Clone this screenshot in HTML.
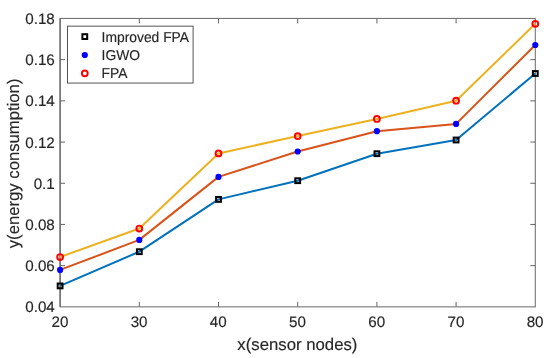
<!DOCTYPE html><html><head><meta charset="utf-8"><style>html,body{margin:0;padding:0;background:#fff}svg{display:block}text{font-family:"Liberation Sans",sans-serif;fill:#262626;stroke:#262626;stroke-width:0.15px;text-rendering:geometricPrecision}</style></head><body>
<svg width="550" height="358" viewBox="0 0 550 358">
<rect width="550" height="358" fill="#fff"/>
<g stroke="#757575" stroke-width="1.1" fill="none">
<rect x="60.1" y="18.45" width="475.20" height="288.40"/>
<path d="M60.1 18.45V306.85" stroke="#606060"/>
</g><g stroke="#666" stroke-width="1" fill="none">
<path d="M139.30 306.85v-5M139.30 18.45v5"/>
<path d="M218.50 306.85v-5M218.50 18.45v5"/>
<path d="M297.70 306.85v-5M297.70 18.45v5"/>
<path d="M376.90 306.85v-5M376.90 18.45v5"/>
<path d="M456.10 306.85v-5M456.10 18.45v5"/>
<path d="M60.1 265.65h5M535.3 265.65h-5"/>
<path d="M60.1 224.45h5M535.3 224.45h-5"/>
<path d="M60.1 183.25h5M535.3 183.25h-5"/>
<path d="M60.1 142.05h5M535.3 142.05h-5"/>
<path d="M60.1 100.85h5M535.3 100.85h-5"/>
<path d="M60.1 59.65h5M535.3 59.65h-5"/>
</g>
<polyline points="60.10,285.90 139.30,251.70 218.50,199.40 297.70,180.70 376.90,153.70 456.10,140.00 535.30,73.50" fill="none" stroke="#0072bd" stroke-width="2" stroke-linejoin="round"/>
<rect x="57.70" y="283.50" width="4.8" height="4.8" fill="none" stroke="#000" stroke-width="2"/>
<rect x="136.90" y="249.30" width="4.8" height="4.8" fill="none" stroke="#000" stroke-width="2"/>
<rect x="216.10" y="197.00" width="4.8" height="4.8" fill="none" stroke="#000" stroke-width="2"/>
<rect x="295.30" y="178.30" width="4.8" height="4.8" fill="none" stroke="#000" stroke-width="2"/>
<rect x="374.50" y="151.30" width="4.8" height="4.8" fill="none" stroke="#000" stroke-width="2"/>
<rect x="453.70" y="137.60" width="4.8" height="4.8" fill="none" stroke="#000" stroke-width="2"/>
<rect x="532.90" y="71.10" width="4.8" height="4.8" fill="none" stroke="#000" stroke-width="2"/>
<polyline points="60.10,269.90 139.30,239.90 218.50,176.90 297.70,151.50 376.90,131.20 456.10,123.90 535.30,45.00" fill="none" stroke="#d95319" stroke-width="2" stroke-linejoin="round"/>
<circle cx="60.10" cy="269.90" r="3.1" fill="#0000ff"/>
<circle cx="139.30" cy="239.90" r="3.1" fill="#0000ff"/>
<circle cx="218.50" cy="176.90" r="3.1" fill="#0000ff"/>
<circle cx="297.70" cy="151.50" r="3.1" fill="#0000ff"/>
<circle cx="376.90" cy="131.20" r="3.1" fill="#0000ff"/>
<circle cx="456.10" cy="123.90" r="3.1" fill="#0000ff"/>
<circle cx="535.30" cy="45.00" r="3.1" fill="#0000ff"/>
<polyline points="60.10,257.00 139.30,228.50 218.50,153.40 297.70,136.10 376.90,118.95 456.10,100.70 535.30,23.80" fill="none" stroke="#edb120" stroke-width="2" stroke-linejoin="round"/>
<circle cx="60.10" cy="257.00" r="2.9" fill="none" stroke="#ff0000" stroke-width="1.95"/>
<circle cx="139.30" cy="228.50" r="2.9" fill="none" stroke="#ff0000" stroke-width="1.95"/>
<circle cx="218.50" cy="153.40" r="2.9" fill="none" stroke="#ff0000" stroke-width="1.95"/>
<circle cx="297.70" cy="136.10" r="2.9" fill="none" stroke="#ff0000" stroke-width="1.95"/>
<circle cx="376.90" cy="118.95" r="2.9" fill="none" stroke="#ff0000" stroke-width="1.95"/>
<circle cx="456.10" cy="100.70" r="2.9" fill="none" stroke="#ff0000" stroke-width="1.95"/>
<circle cx="535.30" cy="23.80" r="2.9" fill="none" stroke="#ff0000" stroke-width="1.95"/>
<text transform="translate(59.90,327.25) scale(1,1)" font-size="15.2" text-anchor="middle">20</text>
<text transform="translate(139.10,327.25) scale(1,1)" font-size="15.2" text-anchor="middle">30</text>
<text transform="translate(218.30,327.25) scale(1,1)" font-size="15.2" text-anchor="middle">40</text>
<text transform="translate(297.50,327.25) scale(1,1)" font-size="15.2" text-anchor="middle">50</text>
<text transform="translate(376.70,327.25) scale(1,1)" font-size="15.2" text-anchor="middle">60</text>
<text transform="translate(455.90,327.25) scale(1,1)" font-size="15.2" text-anchor="middle">70</text>
<text transform="translate(535.10,327.25) scale(1,1)" font-size="15.2" text-anchor="middle">80</text>
<text transform="translate(54.8,312.45) scale(1,1)" font-size="15.2" text-anchor="end">0.04</text>
<text transform="translate(54.8,271.25) scale(1,1)" font-size="15.2" text-anchor="end">0.06</text>
<text transform="translate(54.8,230.05) scale(1,1)" font-size="15.2" text-anchor="end">0.08</text>
<text transform="translate(54.8,188.85) scale(1,1)" font-size="15.2" text-anchor="end">0.1</text>
<text transform="translate(54.8,147.65) scale(1,1)" font-size="15.2" text-anchor="end">0.12</text>
<text transform="translate(54.8,106.45) scale(1,1)" font-size="15.2" text-anchor="end">0.14</text>
<text transform="translate(54.8,65.25) scale(1,1)" font-size="15.2" text-anchor="end">0.16</text>
<text transform="translate(54.8,24.05) scale(1,1)" font-size="15.2" text-anchor="end">0.18</text>
<text x="297.4" y="349.7" font-size="16.75" text-anchor="middle">x(sensor nodes)</text>
<text transform="translate(18.6,163.4) rotate(-90)" font-size="16.7" text-anchor="middle">y(energy consumption)</text>
<rect x="67.5" y="26.15" width="125.6" height="56.9" fill="#fff" stroke="#555" stroke-width="1"/>
<rect x="82.40" y="34.20" width="4.8" height="4.8" fill="none" stroke="#000" stroke-width="2"/>
<circle cx="84.80" cy="55.00" r="3.1" fill="#0000ff"/>
<circle cx="84.80" cy="73.30" r="2.9" fill="none" stroke="#ff0000" stroke-width="1.95"/>
<text transform="translate(101.6,42.0) scale(1,1.03)" font-size="13.85" fill="#000" stroke="#000" stroke-width="0.3">Improved FPA</text>
<text transform="translate(101.6,59.95) scale(1,1.03)" font-size="13.85" fill="#000" stroke="#000" stroke-width="0.3">IGWO</text>
<text transform="translate(101.6,78.35) scale(1,1.03)" font-size="13.85" fill="#000" stroke="#000" stroke-width="0.3">FPA</text>
</svg></body></html>
